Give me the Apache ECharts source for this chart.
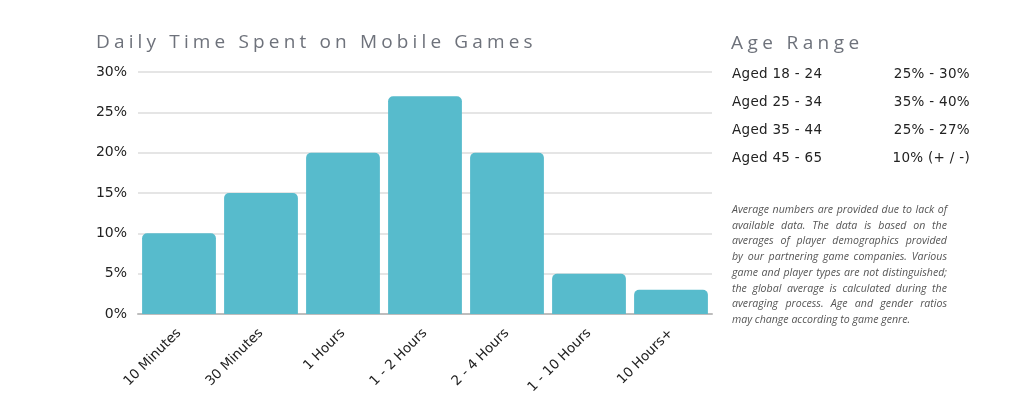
<!DOCTYPE html>
<html><head><meta charset="utf-8">
<script src="https://cdn.jsdelivr.net/npm/echarts@6/dist/echarts.min.js"></script>
<style>
html,body{margin:0;padding:0;background:#fff;width:1024px;height:411px;overflow:hidden;font-family:"Open Sans",sans-serif;}
#chart{position:absolute;left:0;top:0;width:1024px;height:411px;}
#title{position:absolute;left:96px;top:28px;font-size:19px;letter-spacing:4.15px;color:#6e727b;white-space:nowrap;}
#ageTitle{position:absolute;left:731px;top:29px;font-size:19px;letter-spacing:4.4px;color:#6e727b;white-space:nowrap;}
.row{position:absolute;left:732px;width:238px;font-size:13.5px;letter-spacing:0.3px;font-family:"DejaVu Sans",sans-serif;color:#222;display:flex;justify-content:space-between;}
#note{position:absolute;left:732px;top:202px;width:215px;font-size:10.6px;line-height:15.7px;font-style:italic;color:#555;}
#note div{text-align:justify;text-align-last:justify;white-space:nowrap;}
#note div.last{text-align-last:left;}
</style></head>
<body>
<div id="chart"></div>
<div id="title"></div>
<div id="ageTitle"></div>
<div id="rows"></div>
<div id="note"></div>
<script>
const titleText = "Daily Time Spent on Mobile Games";
const categories = ["10 Minutes","30 Minutes","1 Hours","1 - 2 Hours","2 - 4 Hours","1 - 10 Hours","10 Hours+"];
const values = [10, 15, 20, 27, 20, 5, 3];
const yTicks = [0, 5, 10, 15, 20, 25, 30];
const ageTitle = "Age Range";
const ageLabels = ["Aged 18 - 24","Aged 25 - 34","Aged 35 - 44","Aged 45 - 65"];
const ageValues = ["25% - 30%","35% - 40%","25% - 27%","10% (+ / -)"];
const noteLines = [
  "Average numbers are provided due to lack of",
  "available data. The data is based on the",
  "averages of player demographics provided",
  "by our partnering game companies. Various",
  "game and player types are not distinguished;",
  "the global average is calculated during the",
  "averaging process. Age and gender ratios",
  "may change according to game genre."
];

document.getElementById('title').textContent = titleText;
document.getElementById('ageTitle').textContent = ageTitle;
const note = document.getElementById('note');
noteLines.forEach((t, i) => {
  const d = document.createElement('div');
  if (i === noteLines.length - 1) d.className = 'last';
  d.textContent = t;
  note.appendChild(d);
});
const rows = document.getElementById('rows');
const rowTops = [65, 93, 121, 149];
ageLabels.forEach((l, i) => {
  const d = document.createElement('div');
  d.className = 'row';
  d.style.top = rowTops[i] + 'px';
  const a = document.createElement('span'); a.textContent = l;
  const b = document.createElement('span'); b.textContent = ageValues[i];
  d.appendChild(a); d.appendChild(b);
  rows.appendChild(d);
});

const chart = echarts.init(document.getElementById('chart'), null, {renderer: 'canvas'});
chart.setOption({
  animation: false,
  grid: {left: 138, right: 1024 - 712, top: 72, bottom: 411 - 314, containLabel: false},
  xAxis: {
    type: 'category',
    data: categories,
    axisLine: {show: true, lineStyle: {color: '#bdbdbd', width: 2}},
    axisTick: {show: false},
    axisLabel: {rotate: 45, color: '#222', fontSize: 13.5, fontFamily: 'DejaVu Sans', margin: 17, interval: 0}
  },
  yAxis: {
    type: 'value',
    min: yTicks[0], max: yTicks[yTicks.length - 1], interval: 5,
    axisLine: {show: false},
    axisTick: {show: false},
    splitLine: {lineStyle: {color: '#dcdcdc', width: 1.5}},
    axisLabel: {formatter: '{value}%', color: '#222', fontSize: 14, fontFamily: 'DejaVu Sans', margin: 11}
  },
  series: [{
    type: 'bar',
    data: values,
    barCategoryGap: '10%',
    itemStyle: {color: '#57bbcc', borderRadius: [5, 5, 0, 0]}
  }]
});
</script>
</body></html>
